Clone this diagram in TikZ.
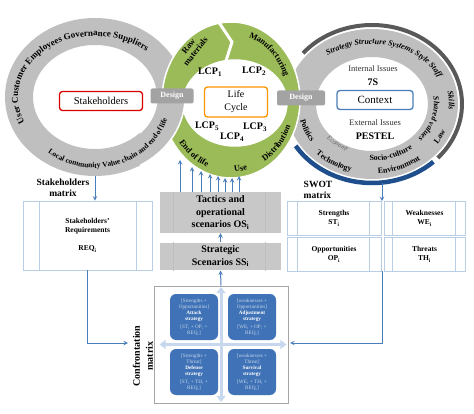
\documentclass[tikz,border=0pt]{standalone}
\usepackage{fontspec}
\setmainfont{Liberation Serif}
\usepackage{tikz}
\usetikzlibrary{arrows.meta,calc,decorations.text}
\definecolor{grigioanello}{HTML}{BFBFBF}
\definecolor{grigioscuro}{HTML}{595959}
\definecolor{grigiodesign}{HTML}{A3A3A3}
\definecolor{grigioscen}{HTML}{C8C8C8}
\definecolor{verde}{HTML}{9BBB59}
\definecolor{bluscuro}{HTML}{1F4E8C}
\definecolor{bluf}{HTML}{4A7EBB}
\definecolor{bordoblu}{HTML}{B9CDE5}
\definecolor{blubox}{HTML}{3F72B6}
\definecolor{azzurro}{HTML}{C6D7EE}
\tikzstyle{boxdesign} = [rectangle,rounded corners=2pt,minimum width=43pt,minimum height=15pt,inner sep=1pt,fill=grigiodesign,text=white,font=\bfseries\fontsize{8}{9}\selectfont]
\tikzstyle{boxcentro} = [rectangle,rounded corners=3pt,line width=1.3pt,fill=white,text=black,align=center,font=\fontsize{10.5}{12}\selectfont]
\tikzstyle{etichetta} = [align=center,font=\bfseries\fontsize{9.5}{11}\selectfont]
\tikzstyle{lcp} = [font=\bfseries\fontsize{10}{11}\selectfont]
\tikzstyle{matrice} = [rectangle,draw=bordoblu,line width=0.8pt,fill=white,align=center,font=\bfseries\fontsize{7.5}{9}\selectfont]
\tikzstyle{scenario} = [rectangle,fill=grigioscen,minimum width=121pt,align=center,font=\bfseries\fontsize{10}{12.5}\selectfont]
\tikzstyle{strategia} = [rectangle,rounded corners=6pt,fill=blubox,minimum width=48pt,minimum height=46pt,inner sep=0pt,text=azzurro,align=center,font=\fontsize{5.2}{6}\selectfont]
\tikzstyle{arrow} = [line width=1pt,->,>=stealth,draw=bluf]
\tikzstyle{doppia} = [line width=3pt,draw=azzurro,{Triangle[length=6pt,width=9pt]}-{Triangle[length=6pt,width=9pt]}]
\tikzstyle{lungoarco} = [decorate,decoration={text along path,text align=center}]
\begin{document}
\begin{tikzpicture}[x=1pt,y=1pt]
\fill[white] (0,0) rectangle (474,-414);

% anelli
\coordinate (RC) at (372,-104);
\fill[grigioanello,even odd rule] (RC) ellipse[x radius=86,y radius=75] (RC) ellipse[x radius=56,y radius=47];
\draw[grigioscuro,line width=4pt] ($(RC)+({90*cos(140)},{79*sin(140)})$) arc[start angle=140,end angle=-43,x radius=90,y radius=79];
\draw[bluscuro,line width=4.5pt] ($(RC)+({90*cos(212)},{79*sin(212)})$) arc[start angle=212,end angle=313,x radius=90,y radius=79];

\coordinate (LC) at (95,-97);
\fill[grigioanello,even odd rule] (LC) ellipse[x radius=90,y radius=79] (LC) ellipse[x radius=62,y radius=52];

\coordinate (GC) at (231,-100);
\coordinate (GI) at (235,-103);
\fill[verde,even odd rule,draw=white,line width=1.5pt] (GC) ellipse[x radius=69,y radius=78] (GI) ellipse[x radius=52,y radius=43];
\draw[white,line width=3pt] (216,-18) -- (232,-42) -- (225,-64);

\begin{scope}
\clip (140,-97) rectangle (200,-185);
\fill[grigioanello,even odd rule,draw=white,line width=1.5pt] (LC) ellipse[x radius=90,y radius=79] (LC) ellipse[x radius=62,y radius=52];
\end{scope}

% testi sugli anelli
\path[lungoarco,decoration={text={|\bfseries\fontsize{9}{9}\selectfont|User Customer Employees Governance Suppliers}}] ($(LC)+({77*cos(213)},{61*sin(213)})$) arc[start angle=213,end angle=40,x radius=77,y radius=61];
\path[lungoarco,decoration={text={|\bfseries\fontsize{7.5}{8}\selectfont|Local community Value chain and end of life}}] ($(LC)+({76*cos(222)},{71*sin(222)})$) arc[start angle=222,end angle=352,x radius=76,y radius=71];

\path[lungoarco,decoration={text={|\bfseries\fontsize{8.5}{9}\selectfont|Manufacturing}}] ($(GC)+({57*cos(86)},{66*sin(86)})$) arc[start angle=86,end angle=8,x radius=57,y radius=66];
\path[lungoarco,decoration={text={|\bfseries\fontsize{8.5}{9}\selectfont|End of life}}] ($(GC)+({64*cos(212)},{72*sin(212)})$) arc[start angle=212,end angle=252,x radius=64,y radius=72];
\path[lungoarco,decoration={text={|\bfseries\fontsize{8.5}{9}\selectfont|Use}}] ($(GC)+({64*cos(270)},{72*sin(270)})$) arc[start angle=270,end angle=288,x radius=64,y radius=72];
\path[lungoarco,decoration={text={|\bfseries\fontsize{8.5}{9}\selectfont|Distribution}}] ($(GC)+({64*cos(298)},{72*sin(298)})$) arc[start angle=298,end angle=342,x radius=64,y radius=72];
\node[rotate=52,align=center,font=\bfseries\fontsize{8.5}{9}\selectfont] (raw) at (192,-49) {Raw\\materials};

\path[lungoarco,decoration={text={|\bfseries\itshape\fontsize{8}{8}\selectfont|Strategy Structure Systems Style Staff}}] ($(RC)+({74*cos(143)},{60*sin(143)})$) arc[start angle=143,end angle=8,x radius=74,y radius=60];
\path[lungoarco,decoration={text={|\bfseries\itshape\fontsize{8}{8}\selectfont|Skills}}] ($(RC)+({77*cos(14)},{67*sin(14)})$) arc[start angle=14,end angle=-8,x radius=77,y radius=67];
\path[lungoarco,decoration={text={|\bfseries\itshape\fontsize{8}{8}\selectfont|Shared values}}] ($(RC)+({62*cos(9)},{52*sin(9)})$) arc[start angle=9,end angle=-43,x radius=62,y radius=52];
\path[lungoarco,decoration={text={|\bfseries\fontsize{8}{8}\selectfont|Politics}}] ($(RC)+({74*cos(189)},{68*sin(189)})$) arc[start angle=189,end angle=219,x radius=74,y radius=68];
\path[lungoarco,decoration={text={|\bfseries\fontsize{8}{8}\selectfont|Technology}}] ($(RC)+({80*cos(222)},{70*sin(222)})$) arc[start angle=222,end angle=258,x radius=80,y radius=70];
\path[lungoarco,decoration={text={|\bfseries\fontsize{8}{8}\selectfont|Environment}}] ($(RC)+({80*cos(270)},{70*sin(270)})$) arc[start angle=270,end angle=312,x radius=80,y radius=70];
\path[lungoarco,decoration={text={|\bfseries\fontsize{8}{8}\selectfont|Law}}] ($(RC)+({80*cos(323)},{70*sin(323)})$) arc[start angle=323,end angle=339,x radius=80,y radius=70];
\path[lungoarco,decoration={text={|\itshape\fontsize{6.5}{7}\selectfont\color{black!60}|Economy}}] ($(RC)+({62*cos(224)},{51*sin(224)})$) arc[start angle=224,end angle=246,x radius=62,y radius=51];
\path[lungoarco,decoration={text={|\bfseries\fontsize{8}{8}\selectfont|Socio-culture}}] ($(RC)+({66*cos(263)},{57*sin(263)})$) arc[start angle=263,end angle=313,x radius=66,y radius=57];

% contenuto anelli
\node[boxcentro,draw=red!85!black,minimum width=83pt,minimum height=19pt] (sh) at (101,-101) {Stakeholders};
\node[boxcentro,draw=orange!85!yellow,minimum width=63pt,minimum height=30pt,font=\fontsize{10}{13}\selectfont] (lc) at (236,-102) {Life\\Cycle};
\node[boxcentro,draw=bluf,minimum width=76pt,minimum height=19pt,font=\fontsize{11}{12}\selectfont] (ctx) at (375,-100) {Context};
\node[font=\fontsize{8.5}{9}\selectfont,text=black!80] (int) at (373,-69) {Internal Issues};
\node[font=\bfseries\fontsize{10}{10}\selectfont] (7s) at (373,-82) {7S};
\node[font=\fontsize{8.5}{9}\selectfont,text=black!80] (ext) at (375,-123) {External Issues};
\node[font=\bfseries\fontsize{10}{10}\selectfont] (pestel) at (375,-136) {PESTEL};

\node[lcp] (lcp1) at (210,-72) {LCP\textsubscript{1}};
\node[lcp] (lcp2) at (254,-71) {LCP\textsubscript{2}};
\node[lcp] (lcp3) at (255,-127) {LCP\textsubscript{3}};
\node[lcp] (lcp4) at (232,-137) {LCP\textsubscript{4}};
\node[lcp] (lcp5) at (207,-126) {LCP\textsubscript{5}};

\node[boxdesign] (des1) at (172,-96) {Design};
\node[boxdesign,minimum width=48pt] (des2) at (301,-98) {Design};

% matrici
\node[matrice,minimum width=129pt,minimum height=69pt] (req) at (87.5,-235.5) {Stakeholders’\\Requirements\\[9pt]REQ\textsubscript{i}};
\node[matrice,minimum width=94pt,minimum height=34pt] (st) at (334,-218.5) {Strengths\\ST\textsubscript{i}};
\node[matrice,minimum width=81pt,minimum height=34pt] (we) at (424.5,-218.5) {Weaknesses\\WE\textsubscript{i}};
\node[matrice,minimum width=94pt,minimum height=34pt] (op) at (334,-254.5) {Opportunities\\OP\textsubscript{i}};
\node[matrice,minimum width=81pt,minimum height=34pt] (th) at (424.5,-254.5) {Threats\\TH\textsubscript{i}};
\foreach \n/\l/\r in {req/17/16,st/11/12,op/11/12,we/9/10,th/9/10} {
  \draw[bordoblu,line width=0.8pt] ([xshift=\l pt]\n.north west) -- ([xshift=\l pt]\n.south west);
  \draw[bordoblu,line width=0.8pt] ([xshift=-\r pt]\n.north east) -- ([xshift=-\r pt]\n.south east);
}
\node[etichetta] (shm) at (63,-188) {Stakeholders\\matrix};
\node[etichetta,align=left] (swm) at (318,-190) {SWOT\\matrix};

\node[scenario,minimum height=41pt] (tact) at (220.5,-212.5) {Tactics and\\operational\\scenarios OS\textsubscript{i}};
\node[scenario,minimum height=27pt] (strat) at (220.5,-256.5) {Strategic\\Scenarios SS\textsubscript{i}};
\foreach \n in {tact,strat} {
  \draw[black!25,line width=0.8pt] ([xshift=14pt]\n.north west) -- ([xshift=14pt]\n.south west);
  \draw[black!25,line width=0.8pt] ([xshift=-16pt]\n.north east) -- ([xshift=-16pt]\n.south east);
}

% confronto
\node[draw=black!35,line width=0.8pt,minimum width=134pt,minimum height=117pt] (conf) at (221,-344.5) {};
\draw[doppia,shorten <=6pt,shorten >=2pt] (conf.west) -- (conf.east);
\draw[doppia,shorten <=1.5pt,shorten >=1.5pt] (conf.north) -- (conf.south);
\node[strategia] (att) at (194,-317) {[Strengths +\\Opportunities]\\\textcolor{white}{\textbf{Attack}}\\\textcolor{white}{\textbf{strategy}}\\[2pt][ST\textsubscript{i} + OP\textsubscript{i} +\\REQ\textsubscript{i}]};
\node[strategia] (adj) at (252,-317) {[weaknesses +\\Opportunities]\\\textcolor{white}{\textbf{Adjustment}}\\\textcolor{white}{\textbf{strategy}}\\[2pt][WE\textsubscript{i} + OP\textsubscript{i} +\\REQ\textsubscript{i}]};
\node[strategia] (def) at (194,-372) {[Strengths +\\Threat]\\\textcolor{white}{\textbf{Defense}}\\\textcolor{white}{\textbf{strategy}}\\[2pt][ST\textsubscript{i} + TH\textsubscript{i} +\\REQ\textsubscript{i}]};
\node[strategia] (sur) at (252,-372) {[weaknesses +\\Threat]\\\textcolor{white}{\textbf{Survival}}\\\textcolor{white}{\textbf{strategy}}\\[2pt][WE\textsubscript{i} + TH\textsubscript{i} +\\REQ\textsubscript{i}]};
\node[etichetta,rotate=90,font=\bfseries\fontsize{10}{13}\selectfont] (cml) at (143,-356) {Confrontation\\matrix};

% frecce
\coordinate (lbase) at (95,-176);
\coordinate (rbase) at (382,-183);
\coordinate (sbase) at (382.5,-271.5);
\coordinate (cin) at (128,-343);
\coordinate (cout) at (290,-343);
\draw[arrow] (lbase) -- (lbase |- req.north);
\draw[arrow] (rbase) -- (rbase |- st.north);
\draw[arrow] (req.south) |- (cin);
\draw[arrow] (sbase) |- (cout);
\draw[arrow] (conf.north) -- (strat.south);
\draw[arrow] (strat.north) -- (tact.south);
\foreach \x/\y in {180/160,192/167,201/171,210/174,218/176,225/178,232/178,239/176} {
  \coordinate (t\x) at (\x,-\y);
  \draw[arrow] (tact.north -| t\x) -- (t\x);
}
\end{tikzpicture}
\end{document}
